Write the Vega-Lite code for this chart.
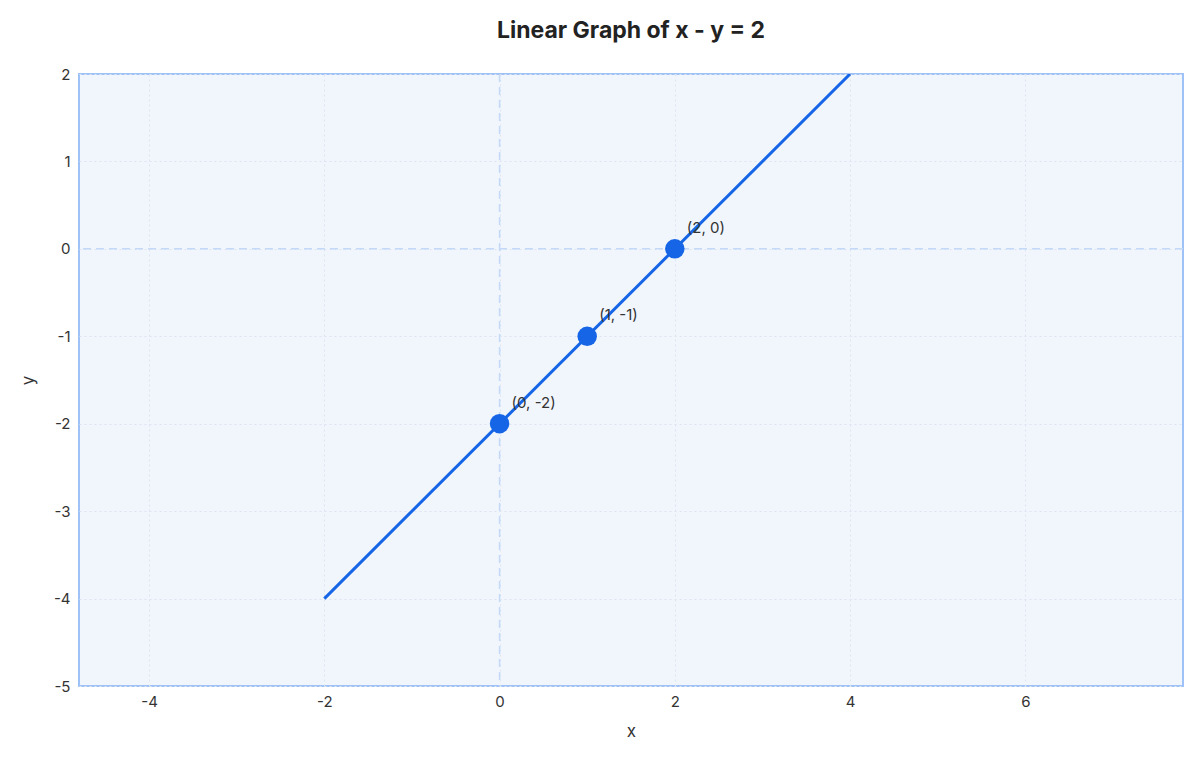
{
  "$schema": "https://vega.github.io/schema/vega-lite/v6.json",
  "autosize": {"type": "none"},
  "padding": {"left": 79, "top": 74, "right": 17, "bottom": 75},
  "width": 1104,
  "height": 612,
  "background": "white",
  "title": {"text": "Linear Graph of x - y = 2", "fontSize": 23, "fontWeight": "bold", "font": "Inter", "color": "#222222", "offset": 24, "anchor": "middle", "frame": "group"},
  "config": {
    "view": {"fill": "#f1f6fd", "stroke": "#9ec2f7", "strokeWidth": 2},
    "axis": {"labelFont": "Inter", "labelFontSize": 15, "labelColor": "#333333", "titleFont": "Inter", "titleFontSize": 17, "titleFontWeight": "normal", "titleColor": "#333333", "domain": false, "ticks": false, "gridColor": "#dde5f1", "gridDash": [2, 3], "gridWidth": 1, "labelExpr": "'' + datum.value"}
  },
  "datasets": {
    "line": [{"x": -2, "y": -4}, {"x": 4, "y": 2}],
    "pts": [{"x": 0, "y": -2, "label": "(0, -2)"}, {"x": 1, "y": -1, "label": "(1, -1)"}, {"x": 2, "y": 0, "label": "(2, 0)"}],
    "zero": [{"v": 0}]
  },
  "layer": [
    {
      "data": {"name": "zero"},
      "mark": {"type": "rule", "color": "#c4d8f8", "strokeWidth": 1.5, "strokeDash": [8, 5]},
      "encoding": {"x": {"field": "v", "type": "quantitative", "scale": {"domain": [-4.8, 7.8], "nice": false, "zero": false}, "axis": {"values": [-4, -2, 0, 2, 4, 6], "title": "x", "labelPadding": 8, "titlePadding": 14}}}
    },
    {
      "data": {"name": "zero"},
      "mark": {"type": "rule", "color": "#c4d8f8", "strokeWidth": 1.5, "strokeDash": [8, 5]},
      "encoding": {"y": {"field": "v", "type": "quantitative", "scale": {"domain": [-5, 2], "nice": false, "zero": false}, "axis": {"values": [-5, -4, -3, -2, -1, 0, 1, 2], "title": "y", "labelPadding": 9, "titlePadding": 16}}}
    },
    {
      "data": {"name": "line"},
      "mark": {"type": "line", "color": "#1565e6", "strokeWidth": 3, "clip": true},
      "encoding": {
        "x": {"field": "x", "type": "quantitative"},
        "y": {"field": "y", "type": "quantitative"}
      }
    },
    {
      "data": {"name": "pts"},
      "mark": {"type": "circle", "color": "#1565e6", "opacity": 1, "size": 380},
      "encoding": {
        "x": {"field": "x", "type": "quantitative"},
        "y": {"field": "y", "type": "quantitative"}
      }
    },
    {
      "data": {"name": "pts"},
      "mark": {"type": "text", "align": "left", "baseline": "middle", "dx": 12, "dy": -21, "font": "Inter", "fontSize": 15, "color": "#333333"},
      "encoding": {
        "x": {"field": "x", "type": "quantitative"},
        "y": {"field": "y", "type": "quantitative"},
        "text": {"field": "label"}
      }
    }
  ]
}
